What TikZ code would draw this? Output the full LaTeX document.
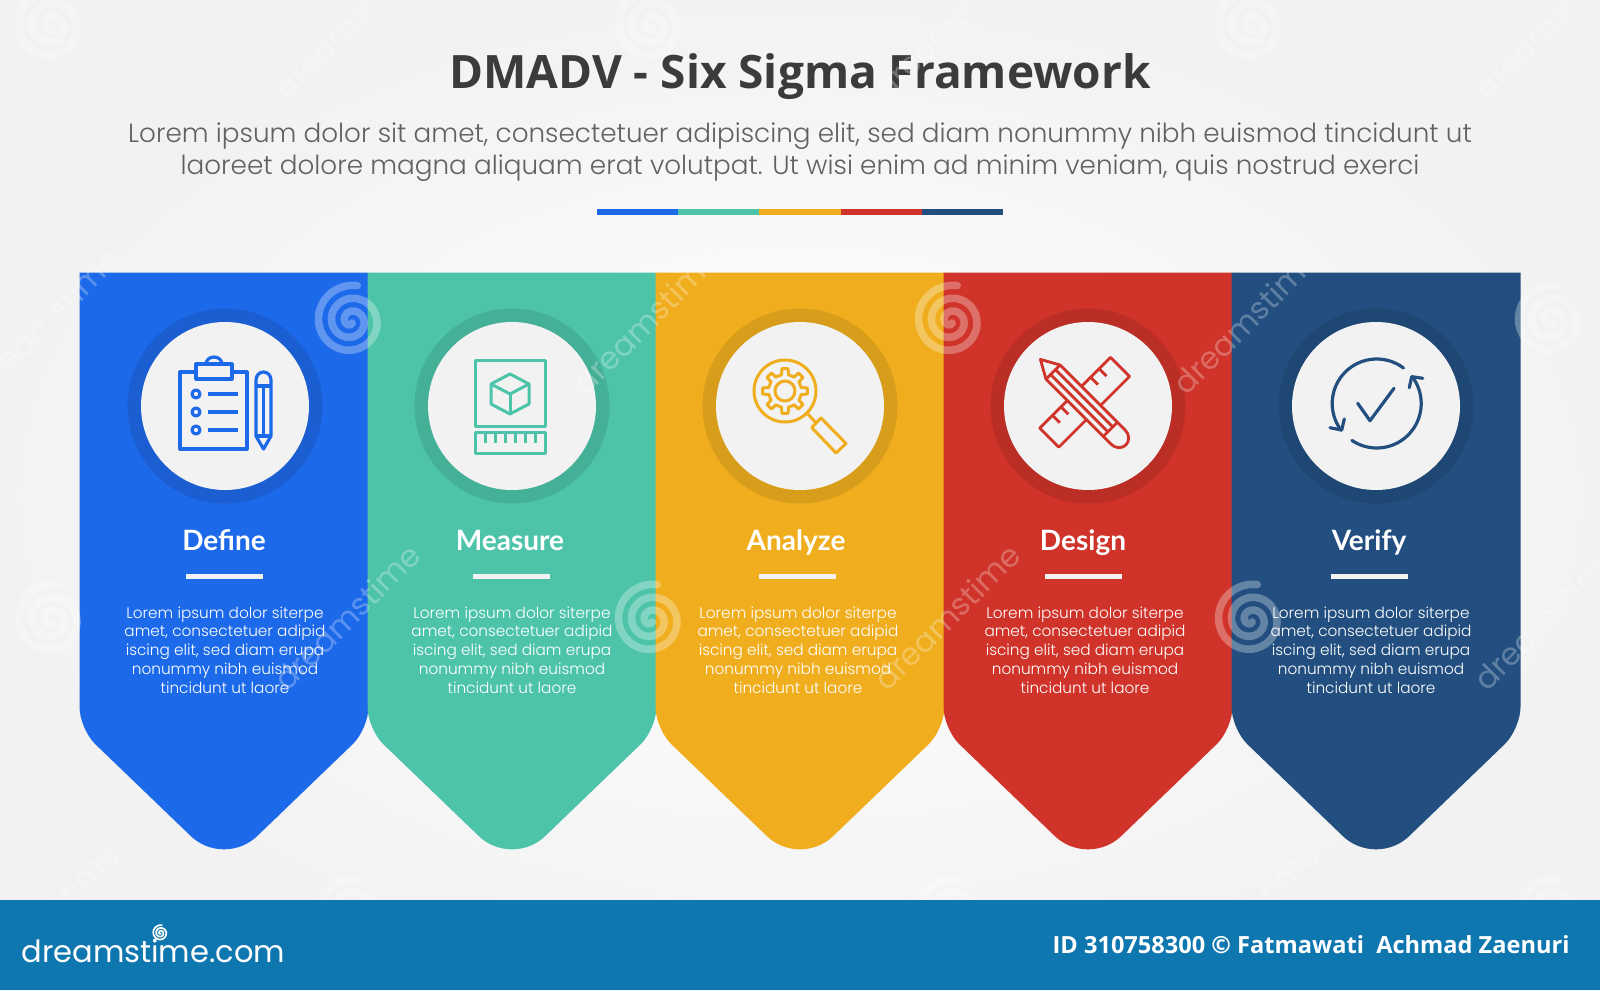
\documentclass[tikz,border=0pt]{standalone}
\usepackage{fontspec}
\setmainfont{Poppins}[UprightFont=* Light]
\newfontfamily\titlefont{Open Sans}
\newfontfamily\headfont{Lato}
\newfontfamily\logofont{Poppins}
\definecolor{cblue}{HTML}{1C69E9}
\definecolor{cteal}{HTML}{4DC4AA}
\definecolor{cyellow}{HTML}{F0AE1E}
\definecolor{cred}{HTML}{CF3329}
\definecolor{cnavy}{HTML}{224F80}
\definecolor{rblue}{HTML}{1B5ED2}
\definecolor{rteal}{HTML}{45B098}
\definecolor{ryellow}{HTML}{D99D1C}
\definecolor{rred}{HTML}{BA2E26}
\definecolor{rnavy}{HTML}{1F4773}
\definecolor{cdisc}{HTML}{F2F2F2}
\definecolor{cfoot}{HTML}{0F77B0}
\tikzset{
  ring/.style={circle, minimum size=195pt, inner sep=0pt},
  disc/.style={circle, minimum size=168pt, inner sep=0pt, fill=cdisc},
  headlabel/.style={anchor=base, text=white, font=\headfont\bfseries\fontsize{28}{30}\selectfont},
  bodylabel/.style={text=white, align=center, font=\fontsize{15.3}{18.8}\selectfont},
  icon/.style={line width=3.2pt, line join=round},
  wmark/.style={text=white, opacity=.28, rotate=45, font=\logofont\fontsize{31}{34}\selectfont},
}
\newcommand{\swirl}[4]{%
  \draw[white, opacity=#4, line width=#3*.21pt, line cap=round] plot[domain=60:1000, samples=90, smooth]
    ({#1+\x/1000*#3*cos(\x)},{#2+\x/1000*#3*sin(\x)});}
\begin{document}
\begin{tikzpicture}[x=1pt,y=-1pt]
  \useasboundingbox (0,0) rectangle (1600,990);
  \shade[inner color=white, outer color=black!5] (0,0) rectangle (1600,990);
  % panels
  \foreach \cx/\col in {224/cblue,512/cteal,800/cyellow,1088/cred,1376/cnavy}{
    \fill[\col] (\cx-144.5,272.5) -- (\cx-144.5,700) [rounded corners=22pt] -- (\cx-144.5,729)
      [rounded corners=46pt] -- (\cx,868) [rounded corners=22pt] -- (\cx+144.5,729)
      [sharp corners] -- (\cx+144.5,700) -- (\cx+144.5,272.5) -- cycle;
  }
  % rule below the subtitle
  \foreach \i/\col in {0/cblue,1/cteal,2/cyellow,3/cred,4/cnavy}{
    \fill[\col] (597+\i*81.2,209) rectangle (597+\i*81.2+81.2,215);
  }
  \node[text=black!77, font=\titlefont\bfseries\fontsize{46}{50}\selectfont] (title) at (800,77) {DMADV - Six Sigma Framework};
  \node[text=black!62, align=center, font=\fontsize{26.25}{32}\selectfont] (subtitle) at (800,152)
    {Lorem ipsum dolor sit amet, consectetuer adipiscing elit, sed diam nonummy nibh euismod tincidunt ut\\
     laoreet dolore magna aliquam erat volutpat. Ut wisi enim ad minim veniam, quis nostrud exerci};
  \node[ring, fill=rblue] (ring0) at (225,406) {};
  \node[ring, fill=rteal] (ring1) at (512,406) {};
  \node[ring, fill=ryellow] (ring2) at (800,406) {};
  \node[ring, fill=rred] (ring3) at (1088,406) {};
  \node[ring, fill=rnavy] (ring4) at (1376,406) {};
  \node[disc] (disc0) at (225,406) {};
  \node[disc] (disc1) at (512,406) {};
  \node[disc] (disc2) at (800,406) {};
  \node[disc] (disc3) at (1088,406) {};
  \node[disc] (disc4) at (1376,406) {};
  \node[headlabel] (head0) at (224,550) {Define};
  \node[headlabel] (head1) at (510,550) {Measure};
  \node[headlabel] (head2) at (796,550) {Analyze};
  \node[headlabel] (head3) at (1083,550) {Design};
  \node[headlabel] (head4) at (1369,550) {Verify};
  \foreach \cx in {224.5,511,797,1083,1369}{
    \fill[white!95!black] (\cx-38.5,573.5) rectangle (\cx+38.5,579);
  }
  \foreach \i/\cx in {0/225,1/512,2/798,3/1085,4/1371}{
    \node[bodylabel] (body\i) at (\cx,650)
      {Lorem ipsum dolor siterpe\\amet, consectetuer adipid\\iscing elit, sed diam erupa\\nonummy nibh euismod\\tincidunt ut laore};
  }
  % clipboard
  \begin{scope}[icon, draw=cblue]
    \draw (180,372) rectangle (247,449);
    \draw[fill=cdisc] (196,364) rectangle (232,379);
    \draw (206,364) arc[start angle=180, end angle=0, x radius=8, y radius=-7];
    \foreach \yy in {394,412,430}{
      \draw (196,\yy) circle[radius=4];
      \draw (207.5,\yy) -- (237.5,\yy);
    }
    \draw (256,436) -- (256,380) arc[start angle=180, end angle=0, x radius=7.5, y radius=-8] -- (271,436) -- (263.5,449) -- cycle;
    \draw (256,436) -- (271,436);
    \draw (256,386) -- (271,386);
    \draw (263.5,386) -- (263.5,436);
  \end{scope}
  % book and cube
  \begin{scope}[icon, draw=cteal, line width=3pt]
    \draw (475,360) rectangle (545,426);
    \draw (510,374) -- (529,384) -- (529,404) -- (510,414) -- (491,404) -- (491,384) -- cycle;
    \draw (491,384) -- (510,394) -- (529,384);
    \draw (510,394) -- (510,414);
    \draw (475,432) rectangle (545,453);
    \foreach \xx in {485,495,505,515,525,535}{
      \draw (\xx,432) -- (\xx,443);
    }
  \end{scope}
  % magnifier
  \begin{scope}[icon, draw=cyellow, line width=3pt]
    \draw (785,391) circle[radius=31];
    \begin{scope}[shift={(785,391)}]
      \draw (0,0) circle[radius=10];
      \foreach \a in {0,45,...,315}{
        \draw ({\a-22.5}:16.5) -- ({\a-12}:16.5) -- ({\a-8}:22.5) -- ({\a+8}:22.5) -- ({\a+12}:16.5) -- ({\a+22.5}:16.5);
      }
    \end{scope}
    \draw (807,413) -- (816,423);
    \draw (821,418) -- (846,443.5) -- (836,453) -- (811.7,427.5) -- cycle;
  \end{scope}
  % ruler and pencil
  \begin{scope}[icon, draw=cred, line width=2.8pt]
    \begin{scope}[shift={(1084.6,402.3)}, rotate=45]
      \draw (-50,-13.5) rectangle (50,13.5);
      \foreach \xx in {-32,-20,22,34}{
        \draw (\xx,-13.5) -- (\xx,-3);
      }
    \end{scope}
    \begin{scope}[shift={(1083.5,402.5)}, rotate=-45]
      \draw[fill=cdisc] (-61,0) -- (-43,-10) -- (49,-10) arc[start angle=90, end angle=-90, x radius=11, y radius=-10] -- (-43,10) -- cycle;
      \draw (-43,-10) -- (-43,10);
      \draw (-43,-3.5) -- (38,-3.5);
      \draw (-43,3.5) -- (38,3.5);
      \draw (38,-10) -- (38,10);
    \end{scope}
  \end{scope}
  % cycle and tick
  \begin{scope}[icon, draw=cnavy, line cap=round]
    \draw (1376.7,403.5) ++(-53:44.5) arc[start angle=-53, end angle=-217, radius=44.5];
    \draw (1376.7,403.5) ++(124:44.5) arc[start angle=124, end angle=-37, radius=44.5];
    \draw (1330,427.7) -- (1341.7,430) -- (1344.3,419);
    \draw (1422.7,378.3) -- (1411.7,376.7) -- (1409.3,387.7);
    \draw (1357.7,403.3) -- (1370,420.7) -- (1394,388.3);
  \end{scope}
  % watermark
  \foreach \xx/\yy in {51/26,651/26,1251/26,351/321,951/321,1551/321,51/620,651/620,1251/620,351/915,951/915,1551/915}{
    \swirl{\xx}{\yy}{36}{.3}
  }
  \foreach \i/\xx/\yy in {0/347/26,1/947/26,2/1547/26,3/46/321,4/646/321,5/1246/321,6/347/617,7/947/617,8/1547/617,9/46/916,10/646/916,11/1246/916}{
    \node[wmark] (wm\i) at (\xx,\yy) {dreamstime};
  }
  \fill[cfoot] (0,900) rectangle (1600,990);
  \node[anchor=west, text=white, font=\logofont\fontsize{30.5}{34}\selectfont] (logo) at (18,951) {dreamstime.com};
  \swirl{160.5}{933}{8}{1}
  \node[anchor=east, text=white, font=\titlefont\bfseries\fontsize{23.6}{26}\selectfont] (credit) at (1573,945) {ID 310758300 © Fatmawati\ \ Achmad Zaenuri};
\end{tikzpicture}
\end{document}
